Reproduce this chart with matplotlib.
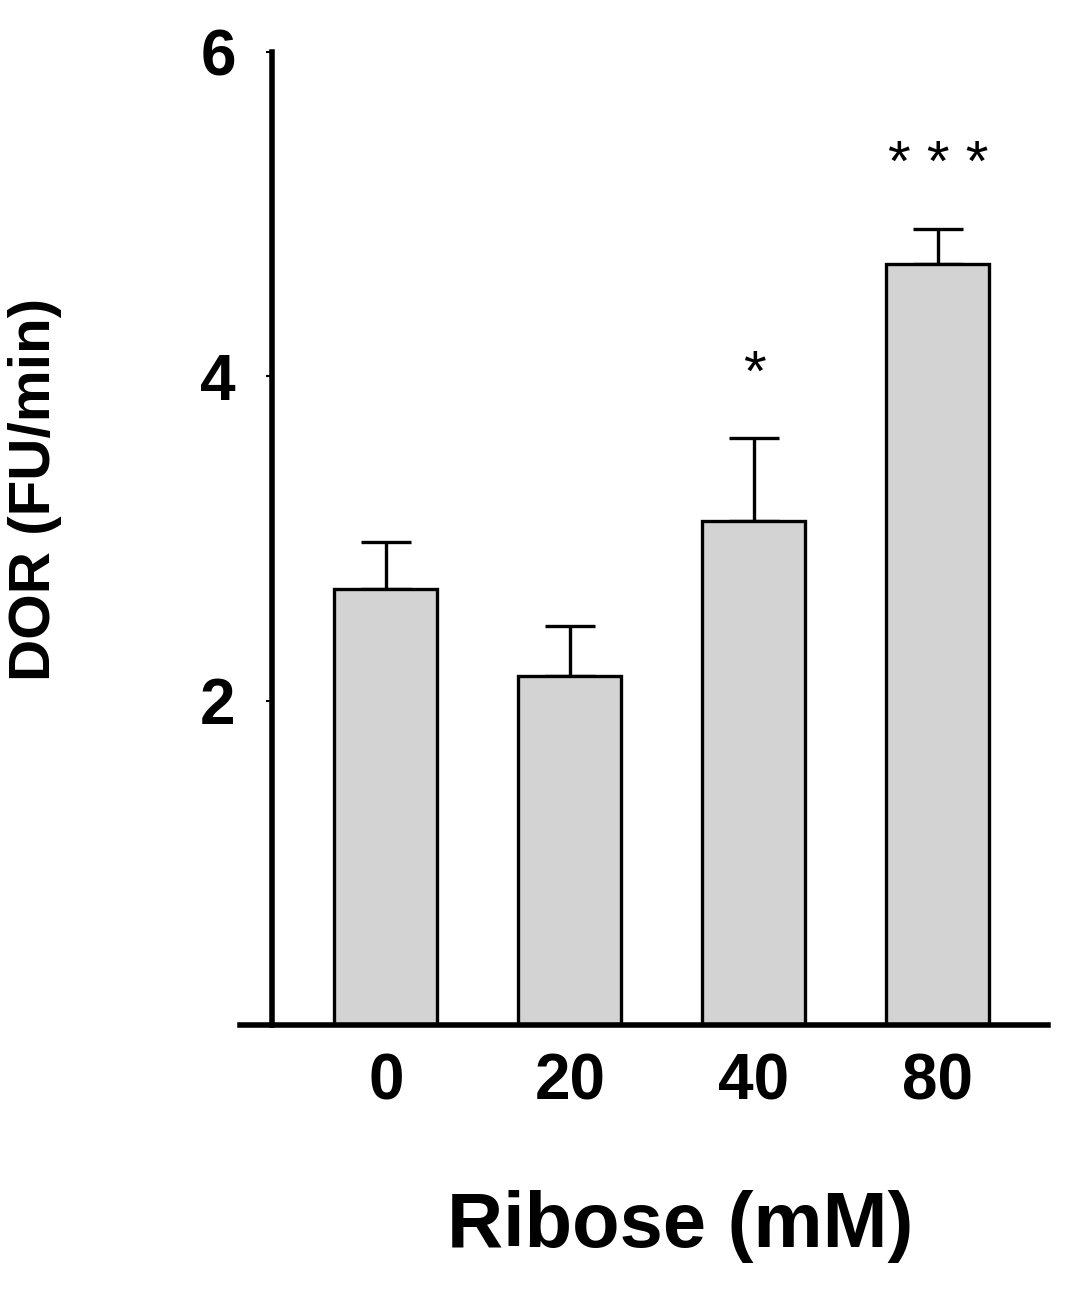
import matplotlib.pyplot as plt

plt.rcParams['font.family'] = ['Liberation Sans', 'DejaVu Sans']

# ── Data ─────────────────────────────────────
doses = ["0", "20", "40", "80"]
means = [2.69, 2.15, 3.11, 4.69]
errs = [0.29, 0.31, 0.51, 0.22]
stars = ["", "", "*", "* * *"]

fig = plt.figure(figsize=(10.76, 13.07), dpi=100)
ax = fig.add_axes([240 / 1076, 1 - 1025 / 1307, (1048 - 240) / 1076, (1025 - 52) / 1307])

x = list(range(len(doses)))
ax.bar(x, means, width=0.56, color="#d3d3d3", edgecolor="black", linewidth=2.4, zorder=2)
ax.errorbar(x, means, yerr=[[0] * len(errs), errs], fmt="none", ecolor="black",
            elinewidth=2.4, capsize=18, capthick=2.4, zorder=1)

for xi, m, e, s in zip(x, means, errs, stars):
    if s:
        ax.text(xi, m + e + 0.22, s, ha="center", va="bottom", fontsize=42)

ax.set_xlim(-0.793, 3.598)
ax.set_ylim(0, 6)
ax.spines["left"].set_position(("data", -0.62))
ax.spines["left"].set_linewidth(4)
ax.spines["bottom"].set_linewidth(4)
ax.spines["top"].set_visible(False)
ax.spines["right"].set_visible(False)

ax.set_yticks([2, 4, 6])
ax.set_yticklabels(["2", "4", "6"], fontsize=46, fontweight="bold")
ax.tick_params(axis="y", length=4, width=1.5, pad=22)
ax.set_xticks(x)
ax.set_xticklabels(doses, fontsize=46, fontweight="bold")
ax.tick_params(axis="x", length=0, pad=20)

ax.set_ylabel("DOR (FU/min)", fontsize=42, fontweight="bold")
ax.yaxis.set_label_coords(-0.22, 0.55)
ax.set_xlabel("Ribose (mM)", fontsize=56, fontweight="bold")
ax.xaxis.set_label_coords((680 - 240) / 808, -0.17)

fig.savefig("out.png", dpi=100)
